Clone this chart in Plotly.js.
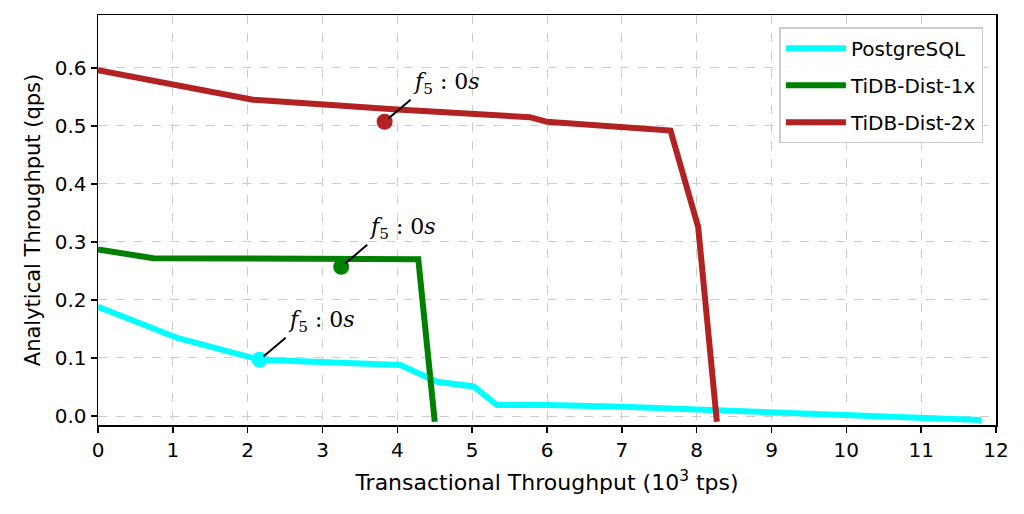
<!DOCTYPE html>
<html>
<head>
<meta charset="utf-8">
<script src="https://cdn.plot.ly/plotly-3.0.1.min.js"></script>
<style>html,body{margin:0;padding:0;background:#fff;}#chart{width:1024px;height:514px;}</style>
</head>
<body>
<div id="chart"></div>
<script>
// Data
const pgX = [0, 1.07, 2.16, 4.04, 4.53, 5.02, 5.33, 6.0, 7.02, 9.11, 10.0, 11.0, 11.8];
const pgY = [0.188, 0.134, 0.097, 0.088, 0.059, 0.051, 0.019, 0.019, 0.016, 0.005, 0.0, -0.004, -0.007];
const d1X = [0, 0.74, 4.28, 4.5];
const d1Y = [0.287, 0.272, 0.270, -0.01];
const d2X = [0, 2.07, 4.0, 5.77, 6.0, 7.65, 8.02, 8.27];
const d2Y = [0.596, 0.545, 0.528, 0.515, 0.507, 0.492, 0.326, -0.01];
const seriesNames = ['PostgreSQL', 'TiDB-Dist-1x', 'TiDB-Dist-2x'];
const seriesColors = ['#00FFFF', '#008000', '#B22222'];
// highlighted f5 points
const markX = [2.16, 3.25, 3.83];
const markY = [0.097, 0.257, 0.507];
const markLabel = '<i>f</i><sub>5</sub> : 0<i>s</i>';
const xTicks = [0,1,2,3,4,5,6,7,8,9,10,11,12];
const yTicks = [0.0,0.1,0.2,0.3,0.4,0.5,0.6];

const font = 'DejaVu Sans, sans-serif';
const xs = [pgX, d1X, d2X], ys = [pgY, d1Y, d2Y];
const traces = [];
for (let i = 0; i < 3; i++) {
  traces.push({x: xs[i], y: ys[i], mode: 'lines', name: seriesNames[i],
    legendgroup: 'g' + i,
    line: {color: seriesColors[i], width: 6}, cliponaxis: true});
}
for (let i = 0; i < 3; i++) {
  traces.push({x: [markX[i]], y: [markY[i]], mode: 'markers', showlegend: false,
    marker: {color: seriesColors[i], size: 16}});
}
const annotations = markX.map((x, i) => ({
  x: x, y: markY[i], xref: 'x', yref: 'y', text: markLabel,
  showarrow: true, arrowhead: 0, arrowwidth: 2, arrowcolor: '#000',
  ax: 26, ay: -22, xanchor: 'left', yanchor: 'bottom', standoff: 5,
  font: {family: 'DejaVu Serif, serif', size: 22, color: '#000'}
}));

const layout = {
  width: 1024, height: 514,
  margin: {l: 98, r: 28, t: 15, b: 89},
  paper_bgcolor: '#fff', plot_bgcolor: '#fff',
  font: {family: font, color: '#000', size: 20},
  showlegend: true,
  legend: {x: 0.986, y: 0.97, xanchor: 'right', yanchor: 'top',
    bgcolor: 'rgba(255,255,255,0.9)', bordercolor: '#cccccc', borderwidth: 1.5,
    font: {family: font, size: 20}, itemwidth: 60, tracegroupgap: 8},
  xaxis: {range: [0, 12], tickvals: xTicks, ticktext: xTicks.map(String),
    showline: true, linecolor: '#000', linewidth: 1.5, mirror: true,
    ticks: 'outside', ticklen: 6, tickcolor: '#000', tickwidth: 1.5,
    showgrid: true, gridcolor: '#cccccc', griddash: 'dash', gridwidth: 1,
    zeroline: false, tickfont: {size: 20},
    title: {text: 'Transactional Throughput (10<sup>3</sup> tps)', font: {size: 22}, standoff: 14}},
  yaxis: {range: [-0.0155, 0.691], tickvals: yTicks, ticktext: yTicks.map(v => v.toFixed(1)),
    showline: true, linecolor: '#000', linewidth: 1.5, mirror: true,
    ticks: 'outside', ticklen: 6, tickcolor: '#000', tickwidth: 1.5,
    showgrid: true, gridcolor: '#cccccc', griddash: 'dash', gridwidth: 1,
    zeroline: false, tickfont: {size: 20},
    title: {text: 'Analytical Throughput (qps)', font: {size: 21}, standoff: 8}},
  annotations: annotations
};
Plotly.newPlot('chart', traces, layout, {displayModeBar: false, staticPlot: true});
</script>
</body>
</html>
